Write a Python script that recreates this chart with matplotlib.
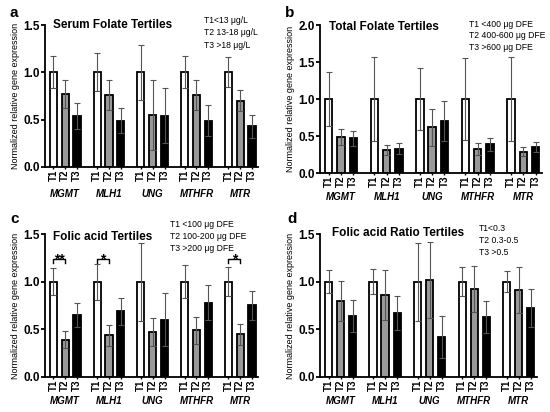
import numpy as np
import matplotlib
matplotlib.use("Agg")
import matplotlib.pyplot as plt

plt.rcParams['font.family'] = ['Liberation Sans', 'DejaVu Sans']

genes = ["MGMT", "MLH1", "UNG", "MTHFR", "MTR"]
tertiles = ["T1", "T2", "T3"]

# mean values per gene (T1, T2, T3) and error (SEM)
serum_mean = [[1.0, 0.77, 0.54], [1.0, 0.76, 0.49], [1.0, 0.55, 0.54], [1.0, 0.76, 0.49], [1.0, 0.70, 0.43]]
serum_err = [[0.17, 0.15, 0.14], [0.20, 0.16, 0.13], [0.29, 0.37, 0.29], [0.17, 0.16, 0.16], [0.16, 0.11, 0.12]]

total_mean = [[1.0, 0.49, 0.47], [1.0, 0.31, 0.33], [1.0, 0.62, 0.71], [1.0, 0.33, 0.39], [1.0, 0.29, 0.35]]
total_err = [[0.36, 0.11, 0.10], [0.57, 0.07, 0.07], [0.42, 0.25, 0.27], [0.55, 0.08, 0.09], [0.57, 0.06, 0.07]]

folic_mean = [[1.0, 0.39, 0.65], [1.0, 0.44, 0.69], [1.0, 0.47, 0.60], [1.0, 0.49, 0.78], [1.0, 0.45, 0.75]]
folic_err = [[0.14, 0.09, 0.13], [0.19, 0.11, 0.14], [0.41, 0.15, 0.28], [0.17, 0.14, 0.18], [0.15, 0.11, 0.15]]

ratio_mean = [[1.0, 0.80, 0.64], [1.0, 0.86, 0.67], [1.0, 1.02, 0.42], [1.0, 0.92, 0.63], [1.0, 0.91, 0.72]]
ratio_err = [[0.12, 0.21, 0.17], [0.13, 0.26, 0.18], [0.41, 0.40, 0.22], [0.15, 0.24, 0.17], [0.11, 0.24, 0.20]]

# significance marks in panel c: (gene index, stars)
folic_sig = [(0, "**"), (1, "*"), (4, "*")]

legend_a = ["T1<13 \u03bcg/L", "T2 13-18 \u03bcg/L", "T3 >18 \u03bcg/L"]
legend_b = ["T1 <400 \u03bcg DFE", "T2 400-600 \u03bcg DFE", "T3 >600 \u03bcg DFE"]
legend_c = ["T1 <100 \u03bcg DFE", "T2 100-200 \u03bcg DFE", "T3 >200 \u03bcg DFE"]
legend_d = ["T1<0.3", "T2 0.3-0.5", "T3 >0.5"]

colors = ["white", "#999999", "black"]
step = 3.7


def draw_panel(ax, mean, err, title, legend, ymax, yticks, letter,
               title_pos, legend_pos, gene_y, sig=None):
    mean = np.array(mean)
    err = np.array(err)
    xs_all = []
    for g in range(len(genes)):
        xs = g * step + np.arange(3)
        xs_all.extend(xs)
        for j in range(3):
            ax.errorbar(xs[j], mean[g, j], yerr=err[g, j], fmt='none',
                        ecolor='#555555', elinewidth=0.8, capsize=2,
                        capthick=0.8, zorder=3)
            ax.bar(xs[j], mean[g, j], width=0.6, color=colors[j],
                   edgecolor='black', linewidth=1.3, zorder=2)
        ax.text(xs[1], gene_y, genes[g], transform=ax.get_xaxis_transform(),
                ha='center', va='center', fontsize=7, fontweight='bold',
                fontstyle='italic')
    ax.set_xticks(xs_all)
    ax.set_xticklabels(tertiles * len(genes), rotation=90, fontsize=7,
                       fontweight='bold')
    ax.set_xlim(-0.7, (len(genes) - 1) * step + 2.5)
    ax.set_ylim(0, ymax)
    ax.set_yticks(yticks)
    ax.set_yticklabels(["%.1f" % v for v in yticks], fontsize=8.5,
                       fontweight='bold')
    ax.tick_params(axis='x', length=1.5, width=1, pad=0.5)
    ax.tick_params(axis='y', length=3, width=1.3, pad=1)
    for s in ['top', 'right']:
        ax.spines[s].set_visible(False)
    for s in ['left', 'bottom']:
        ax.spines[s].set_linewidth(1.3)
    ax.set_ylabel("Normalized relative gene expression", fontsize=6.5,
                  labelpad=2)
    ax.text(title_pos[0], title_pos[1], title, transform=ax.transAxes,
            ha='left', va='center', fontsize=8.5, fontweight='bold')
    for i, line in enumerate(legend):
        ax.text(legend_pos[0], legend_pos[1] - i * legend_pos[2], line,
                transform=ax.transAxes, ha='left', va='center', fontsize=6.2)
    ax.text(letter[1], letter[2], letter[0], transform=ax.figure.transFigure,
            ha='left', va='center', fontsize=11, fontweight='bold')
    if sig:
        for g, stars in sig:
            x0 = g * step
            x1 = g * step + 1
            yb = 1.24
            ax.plot([x0, x0, x1, x1], [yb - 0.045, yb, yb, yb - 0.045],
                    color='black', linewidth=1)
            ax.text((x0 + x1) / 2, yb - 0.08, stars, ha='center', va='bottom',
                    fontsize=10, fontweight='bold')


fig = plt.figure(figsize=(5.5, 4.12), dpi=100)
ax_a = fig.add_axes([0.082, 0.595, 0.387, 0.344])
ax_b = fig.add_axes([0.582, 0.580, 0.403, 0.359])
ax_c = fig.add_axes([0.082, 0.085, 0.387, 0.347])
ax_d = fig.add_axes([0.582, 0.085, 0.394, 0.347])

draw_panel(ax_a, serum_mean, serum_err, "Serum Folate Tertiles", legend_a,
           1.5, [0.0, 0.5, 1.0, 1.5], ("a", 0.018, 0.968),
           (0.038, 1.0), (0.746, 1.035, 0.088), -0.19)
draw_panel(ax_b, total_mean, total_err, "Total Folate Tertiles", legend_b,
           2.0, [0.0, 0.5, 1.0, 1.5, 2.0], ("b", 0.518, 0.968),
           (0.04, 0.99), (0.67, 1.007, 0.078), -0.16)
draw_panel(ax_c, folic_mean, folic_err, "Folic acid Tertiles", legend_c,
           1.5, [0.0, 0.5, 1.0, 1.5], ("c", 0.018, 0.468),
           (0.038, 0.98), (0.585, 1.07, 0.085), -0.17, sig=folic_sig)
draw_panel(ax_d, ratio_mean, ratio_err, "Folic acid Ratio Tertiles", legend_d,
           1.5, [0.0, 0.5, 1.0, 1.5], ("d", 0.522, 0.468),
           (0.055, 1.01), (0.733, 1.042, 0.087), -0.17)

fig.savefig("out.png", dpi=100)
